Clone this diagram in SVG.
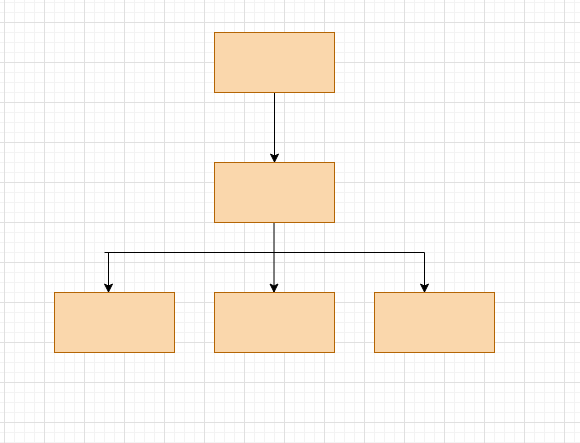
<svg xmlns="http://www.w3.org/2000/svg" width="580" height="443" viewBox="0 0 580 443">
  <defs>
    <pattern id="grid" patternUnits="userSpaceOnUse" x="4" y="22" width="40" height="40">
      <path d="M10.5 0V40M20.5 0V40M30.5 0V40M0 10.5H40M0 20.5H40M0 30.5H40" stroke="#f3f3f3" stroke-width="1" fill="none"/>
      <path d="M0.5 0V40M0 0.5H40" stroke="#e0e0e0" stroke-width="1" fill="none"/>
    </pattern>
    <marker id="arrow" markerWidth="10" markerHeight="10" viewBox="0 0 10 10" refX="9" refY="5" orient="auto" markerUnits="userSpaceOnUse">
      <path d="M9 5 L1 1 L3 5 L1 9 Z" fill="#000" stroke="#000" stroke-width="1"/>
    </marker>
    <style>
      .box { fill: #fad7ac; stroke: #b46504; stroke-width: 1; }
      .edge { fill: none; stroke: #000; stroke-width: 1; }
    </style>
  </defs>
  <rect x="0" y="0" width="580" height="443" fill="#ffffff"/>
  <rect x="0" y="0" width="580" height="443" fill="url(#grid)"/>

  <g id="connectors">
    <path class="edge" d="M274.5 92.5 V162" marker-end="url(#arrow)"/>
    <path class="edge" d="M274 222.5 V292" marker-end="url(#arrow)"/>
    <path class="edge" d="M104.5 252.5 H424.5"/>
    <path class="edge" d="M108.5 252.5 V292" marker-end="url(#arrow)"/>
    <path class="edge" d="M424.5 252.5 V292" marker-end="url(#arrow)"/>
  </g>

  <g id="node-top"><rect class="box" x="214.5" y="32.5" width="120" height="60"/></g>
  <g id="node-middle"><rect class="box" x="214.5" y="162.5" width="120" height="60"/></g>
  <g id="node-bottom-left"><rect class="box" x="54.5" y="292.5" width="120" height="60"/></g>
  <g id="node-bottom-center"><rect class="box" x="214.5" y="292.5" width="120" height="60"/></g>
  <g id="node-bottom-right"><rect class="box" x="374.5" y="292.5" width="120" height="60"/></g>
</svg>
